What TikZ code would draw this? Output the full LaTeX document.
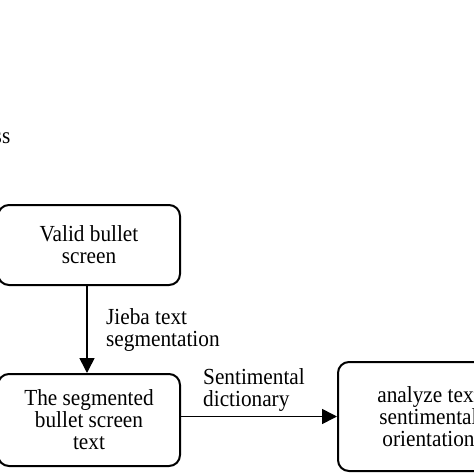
\documentclass[tikz,border=0pt]{standalone}
\usepackage{fontspec}
\setmainfont[FakeStretch=0.925]{Liberation Serif}
\usetikzlibrary{arrows.meta}
\begin{document}
\begin{tikzpicture}[x=1pt,y=-1pt,
  every node/.style={font=\fontsize{23}{22}\selectfont, inner sep=0pt},
  stepbox/.style={draw, line width=2pt, rounded corners=11pt, align=center},
  flow/.style={draw, line width=1.6pt, -{Triangle[length=15pt,width=15pt]}},
  lbl/.style={align=left, anchor=base west}]
\useasboundingbox (0,0) rectangle (474,474);
\clip (0,0) rectangle (474,474);
\fill[white] (0,0) rectangle (474,474);
\node[stepbox, minimum width=182pt, minimum height=80pt] (valid) at (89,245) {Valid bullet\\screen};
\node[stepbox, minimum width=182pt, minimum height=92pt] (seg) at (89,420) {The segmented\\bullet screen\\text};
\node[stepbox, minimum width=181pt, minimum height=109pt] (ana) at (428.5,416.5) {analyze text\\sentimental\\orientation};
\node[anchor=base east] (frag) at (10.5,143) {ss};
\node[lbl] (jieba) at (106,346) {Jieba text\\segmentation};
\node[lbl] (dict) at (203,406) {Sentimental\\dictionary};
\draw[flow] ([xshift=-2pt]valid.south) -- ([xshift=-2pt]valid.south |- seg.north);
\draw[flow] (seg.east |- ana.west) -- (ana.west);
\end{tikzpicture}
\end{document}
